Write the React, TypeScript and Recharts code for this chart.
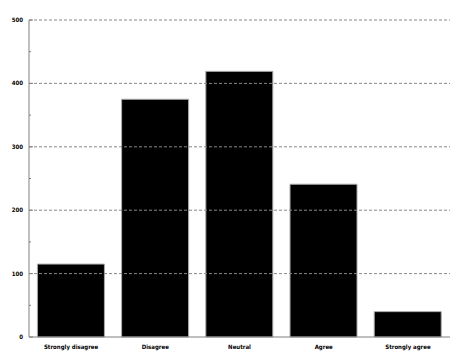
import { Bar, BarChart, ReferenceLine, XAxis, YAxis } from "recharts";

const CATEGORIES = ["Strongly disagree", "Disagree", "Neutral", "Agree", "Strongly agree"];
const COUNTS = [115, 375, 419, 241, 40];
const Y_TICKS = [0, 50, 100, 150, 200, 250, 300, 350, 400, 450, 500];
const GRID_LINES = [100, 200, 300, 400, 500];

const data = CATEGORIES.map((name, i) => ({ name, count: COUNTS[i] }));

const FONT = "'DejaVu Sans Condensed', 'DejaVu Sans', sans-serif";
const AXIS_COLOR = "#808080";

function YTick({ x, y, payload }: any) {
  const major = payload.value % 100 === 0;
  // x here is axis x minus tickSize+tickMargin (6px)
  return (
    <g>
      <line x1={x + 6} x2={x + 6 + (major ? 4 : 2)} y1={y} y2={y} stroke={AXIS_COLOR} strokeWidth={1} />
      {major && (
        <text
          x={x}
          y={y}
          dy={2}
          textAnchor="end"
          fontSize={6}
          fontWeight="bold"
          fontFamily={FONT}
          fill="#000"
        >
          {payload.value}
        </text>
      )}
    </g>
  );
}

export default function App() {
  return (
    <div style={{ position: "absolute", left: 0, top: 0, width: 474, height: 355, background: "#fff" }}>
      <BarChart
        width={474}
        height={355}
        data={data}
        margin={{ top: 20, right: 24, bottom: 0, left: 0 }}
        barCategoryGap="10%"
      >
        <XAxis
          dataKey="name"
          height={18}
          axisLine={{ stroke: AXIS_COLOR }}
          tickLine={false}
          tickMargin={2}
          interval={0}
          tick={{ fontSize: 6, fontWeight: "bold", fontFamily: FONT, fill: "#000" }}
        />
        <YAxis
          width={29}
          domain={[0, 500]}
          ticks={Y_TICKS}
          interval={0}
          tickSize={4}
          tickMargin={2}
          tickLine={false}
          axisLine={{ stroke: AXIS_COLOR }}
          tick={<YTick />}
        />
        {GRID_LINES.map((v) => (
          <ReferenceLine key={v} y={v} stroke="#888" strokeDasharray="3 2" />
        ))}
        <Bar dataKey="count" fill="#000" stroke="#aaa" strokeWidth={1} isAnimationActive={false} />
      </BarChart>
    </div>
  );
}
